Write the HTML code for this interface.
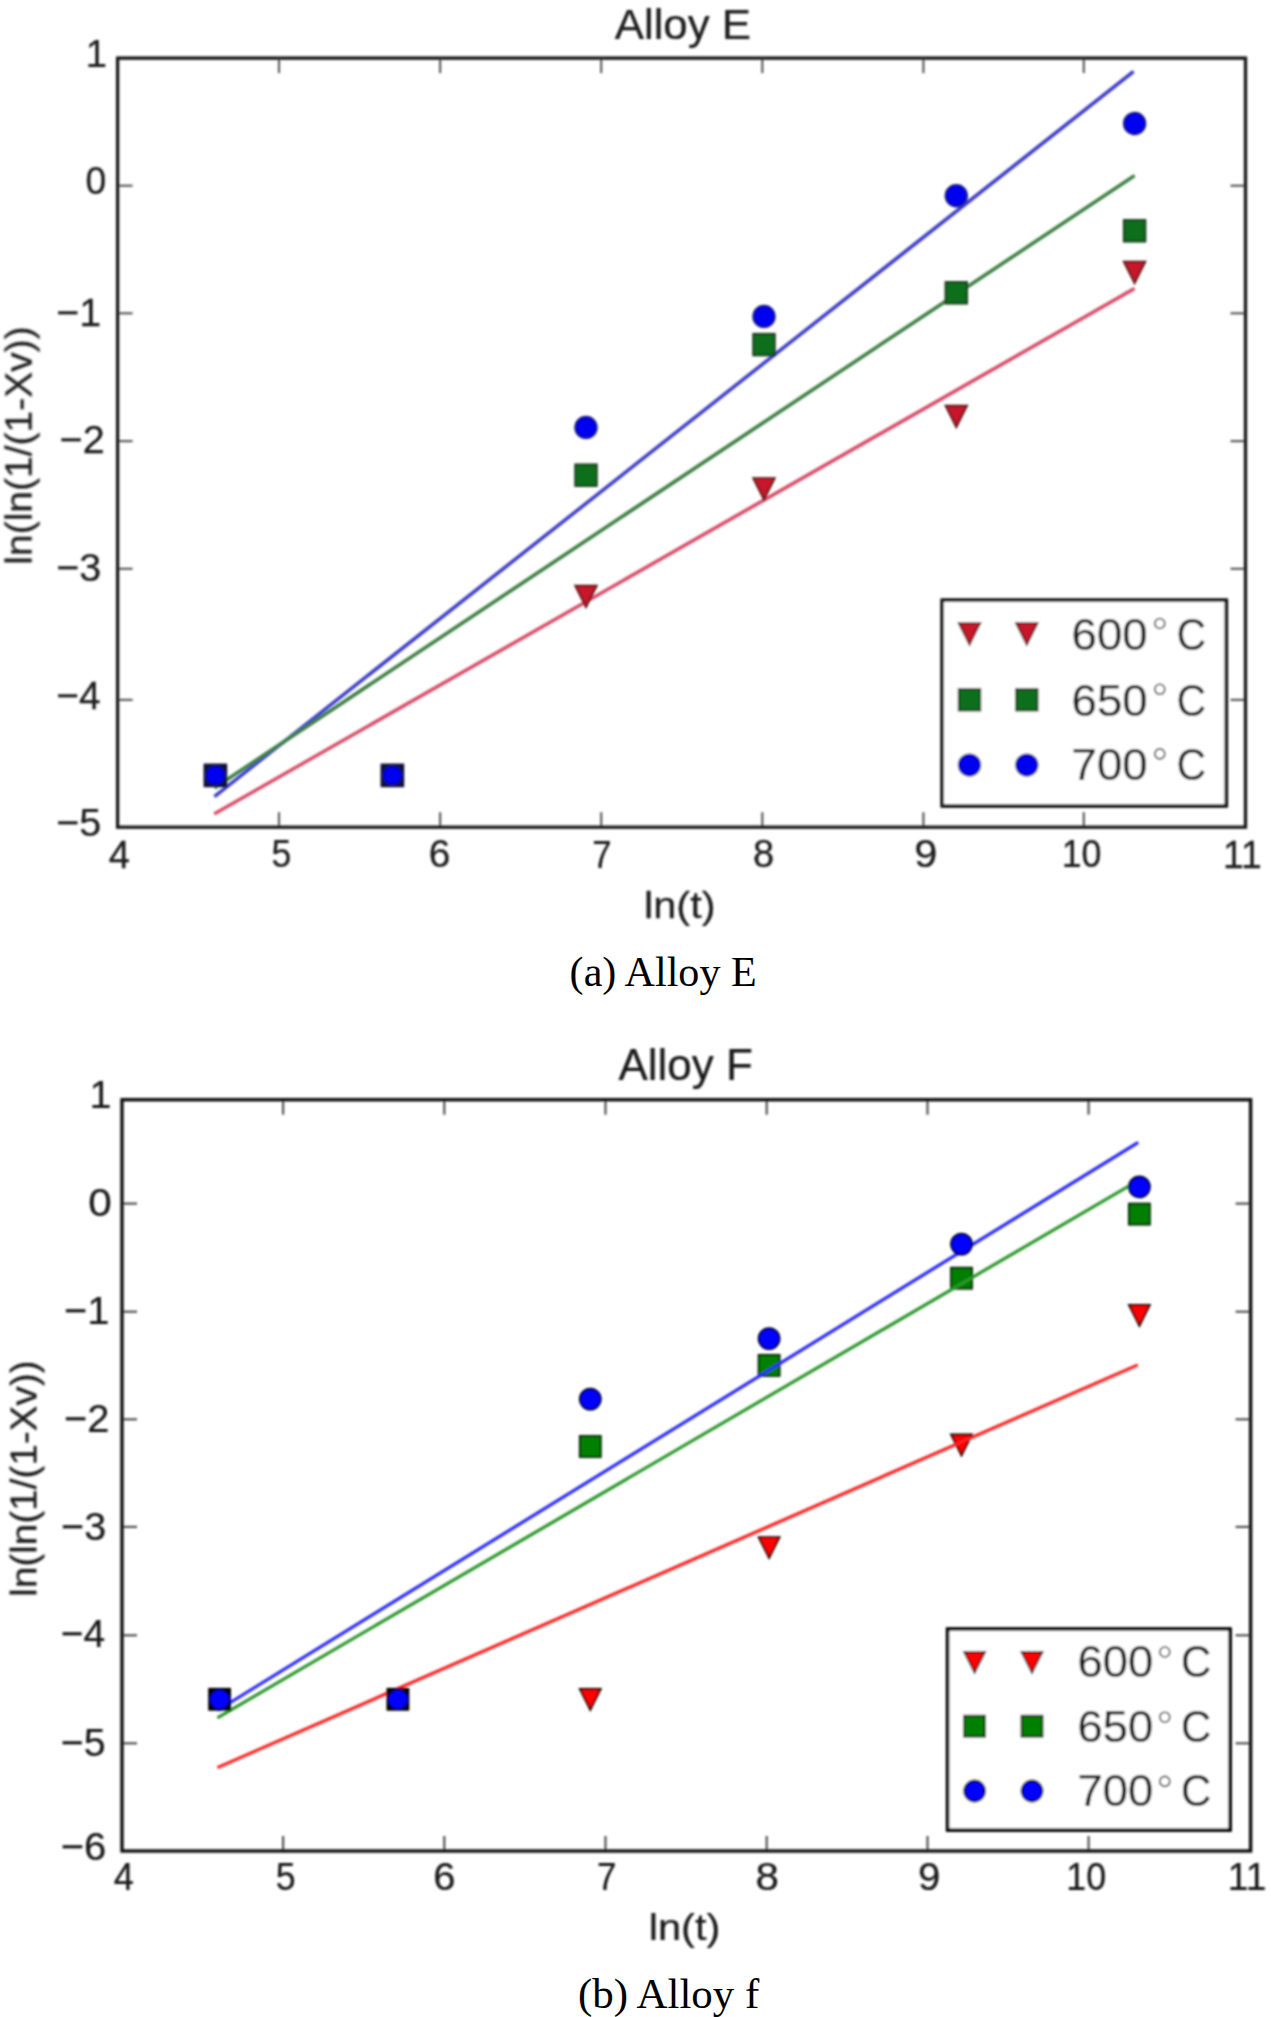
<!DOCTYPE html>
<html><head><meta charset="utf-8"><title>Alloy E / Alloy F</title>
<style>html,body{margin:0;padding:0;background:#fff;overflow:hidden;} svg{display:block;}</style></head>
<body><svg width="1271" height="2017" viewBox="0 0 1271 2017">
<defs>
<filter id="b1" x="-2%" y="-2%" width="104%" height="104%"><feGaussianBlur stdDeviation="1.0"/></filter>
<filter id="b2" x="-2%" y="-2%" width="104%" height="104%"><feGaussianBlur stdDeviation="0.8"/></filter>
</defs>
<rect width="1271" height="2017" fill="#fff"/>
<g filter="url(#b1)">
<line x1="279.00" y1="827.20" x2="279.00" y2="812.20" stroke="#5a5a5a" stroke-width="2.2"/>
<line x1="279.00" y1="58.10" x2="279.00" y2="73.10" stroke="#5a5a5a" stroke-width="2.2"/>
<line x1="440.10" y1="827.20" x2="440.10" y2="812.20" stroke="#5a5a5a" stroke-width="2.2"/>
<line x1="440.10" y1="58.10" x2="440.10" y2="73.10" stroke="#5a5a5a" stroke-width="2.2"/>
<line x1="601.20" y1="827.20" x2="601.20" y2="812.20" stroke="#5a5a5a" stroke-width="2.2"/>
<line x1="601.20" y1="58.10" x2="601.20" y2="73.10" stroke="#5a5a5a" stroke-width="2.2"/>
<line x1="762.30" y1="827.20" x2="762.30" y2="812.20" stroke="#5a5a5a" stroke-width="2.2"/>
<line x1="762.30" y1="58.10" x2="762.30" y2="73.10" stroke="#5a5a5a" stroke-width="2.2"/>
<line x1="923.40" y1="827.20" x2="923.40" y2="812.20" stroke="#5a5a5a" stroke-width="2.2"/>
<line x1="923.40" y1="58.10" x2="923.40" y2="73.10" stroke="#5a5a5a" stroke-width="2.2"/>
<line x1="1083.80" y1="827.20" x2="1083.80" y2="812.20" stroke="#5a5a5a" stroke-width="2.2"/>
<line x1="1083.80" y1="58.10" x2="1083.80" y2="73.10" stroke="#5a5a5a" stroke-width="2.2"/>
<line x1="117.60" y1="185.70" x2="132.60" y2="185.70" stroke="#5a5a5a" stroke-width="2.2"/>
<line x1="1245.50" y1="185.70" x2="1230.50" y2="185.70" stroke="#5a5a5a" stroke-width="2.2"/>
<line x1="117.60" y1="313.30" x2="132.60" y2="313.30" stroke="#5a5a5a" stroke-width="2.2"/>
<line x1="1245.50" y1="313.30" x2="1230.50" y2="313.30" stroke="#5a5a5a" stroke-width="2.2"/>
<line x1="117.60" y1="441.10" x2="132.60" y2="441.10" stroke="#5a5a5a" stroke-width="2.2"/>
<line x1="1245.50" y1="441.10" x2="1230.50" y2="441.10" stroke="#5a5a5a" stroke-width="2.2"/>
<line x1="117.60" y1="568.80" x2="132.60" y2="568.80" stroke="#5a5a5a" stroke-width="2.2"/>
<line x1="1245.50" y1="568.80" x2="1230.50" y2="568.80" stroke="#5a5a5a" stroke-width="2.2"/>
<line x1="117.60" y1="699.90" x2="132.60" y2="699.90" stroke="#5a5a5a" stroke-width="2.2"/>
<line x1="1245.50" y1="699.90" x2="1230.50" y2="699.90" stroke="#5a5a5a" stroke-width="2.2"/>
<line x1="214.20" y1="814.00" x2="1134.60" y2="288.50" stroke="#d8506a" stroke-width="3.6"/>
<line x1="214.40" y1="796.60" x2="1133.60" y2="71.50" stroke="#4040c8" stroke-width="3.6"/>
<line x1="214.40" y1="788.00" x2="1134.60" y2="175.50" stroke="#3f8045" stroke-width="3.6"/>
<path d="M575.20,585.70 L596.80,585.70 L586.00,607.30 Z" fill="#c8182a" stroke="#5a1414" stroke-width="1.8"/>
<path d="M753.20,478.20 L774.80,478.20 L764.00,499.80 Z" fill="#c8182a" stroke="#5a1414" stroke-width="1.8"/>
<path d="M945.50,405.60 L967.10,405.60 L956.30,427.20 Z" fill="#c8182a" stroke="#5a1414" stroke-width="1.8"/>
<path d="M1123.80,261.60 L1145.40,261.60 L1134.60,283.20 Z" fill="#c8182a" stroke="#5a1414" stroke-width="1.8"/>
<rect x="575.20" y="464.40" width="21.60" height="21.60" fill="#0e6e1e" stroke="#1a361a" stroke-width="1.8"/>
<rect x="753.20" y="333.80" width="21.60" height="21.60" fill="#0e6e1e" stroke="#1a361a" stroke-width="1.8"/>
<rect x="945.50" y="282.00" width="21.60" height="21.60" fill="#0e6e1e" stroke="#1a361a" stroke-width="1.8"/>
<rect x="1123.80" y="220.00" width="21.60" height="21.60" fill="#0e6e1e" stroke="#1a361a" stroke-width="1.8"/>
<circle cx="586.00" cy="427.40" r="10.80" fill="#0000f0" stroke="#181880" stroke-width="1.8"/>
<circle cx="764.00" cy="316.40" r="10.80" fill="#0000f0" stroke="#181880" stroke-width="1.8"/>
<circle cx="956.30" cy="195.70" r="10.80" fill="#0000f0" stroke="#181880" stroke-width="1.8"/>
<circle cx="1134.60" cy="123.50" r="10.80" fill="#0000f0" stroke="#181880" stroke-width="1.8"/>
<rect x="204.60" y="764.60" width="21.60" height="21.60" fill="#0c0c50" stroke="#0c0c30" stroke-width="2.0"/>
<circle cx="215.40" cy="775.40" r="9.55" fill="#0000f0" stroke="#10106a" stroke-width="1.2"/>
<rect x="381.60" y="764.60" width="21.60" height="21.60" fill="#0c0c50" stroke="#0c0c30" stroke-width="2.0"/>
<circle cx="392.40" cy="775.40" r="9.55" fill="#0000f0" stroke="#10106a" stroke-width="1.2"/>
<rect x="117.60" y="58.10" width="1127.90" height="769.10" fill="none" stroke="#141414" stroke-width="3.3"/>
<rect x="942.20" y="600.20" width="284.10" height="205.70" fill="#fff" stroke="#080808" stroke-width="3.6"/>
<path d="M958.70,623.10 L980.30,623.10 L969.50,644.70 Z" fill="#c8182a" stroke="#5a1414" stroke-width="1.8"/>
<rect x="958.70" y="689.00" width="21.60" height="21.60" fill="#0e6e1e" stroke="#1a361a" stroke-width="1.8"/>
<circle cx="969.50" cy="765.10" r="10.80" fill="#0000f0" stroke="#181880" stroke-width="1.8"/>
<path d="M1016.00,623.10 L1037.60,623.10 L1026.80,644.70 Z" fill="#c8182a" stroke="#5a1414" stroke-width="1.8"/>
<rect x="1016.00" y="689.00" width="21.60" height="21.60" fill="#0e6e1e" stroke="#1a361a" stroke-width="1.8"/>
<circle cx="1026.80" cy="765.10" r="10.80" fill="#0000f0" stroke="#181880" stroke-width="1.8"/>
<text transform="translate(614.70,38.90) scale(1.0189,1)" font-family="Liberation Sans" font-size="43" fill="#1c1c1c" stroke="#1c1c1c" stroke-width="0.25">Alloy E</text>
<text transform="translate(85.75,67.39) scale(0.9705,1)" font-family="Liberation Sans" font-size="39.3" fill="#1c1c1c" stroke="#1c1c1c" stroke-width="0.25">1</text>
<text transform="translate(85.61,194.00) scale(0.9489,1)" font-family="Liberation Sans" font-size="39.3" fill="#1c1c1c" stroke="#1c1c1c" stroke-width="0.25">0</text>
<text transform="translate(56.23,325.59) scale(1.0007,1)" font-family="Liberation Sans" font-size="39.3" fill="#1c1c1c" stroke="#1c1c1c" stroke-width="0.25">−1</text>
<text transform="translate(59.61,453.19) scale(1.0105,1)" font-family="Liberation Sans" font-size="39.3" fill="#1c1c1c" stroke="#1c1c1c" stroke-width="0.25">−2</text>
<text transform="translate(56.22,580.90) scale(1.0057,1)" font-family="Liberation Sans" font-size="39.3" fill="#1c1c1c" stroke="#1c1c1c" stroke-width="0.25">−3</text>
<text transform="translate(56.26,709.19) scale(0.9890,1)" font-family="Liberation Sans" font-size="39.3" fill="#1c1c1c" stroke="#1c1c1c" stroke-width="0.25">−4</text>
<text transform="translate(56.22,835.90) scale(1.0057,1)" font-family="Liberation Sans" font-size="39.3" fill="#1c1c1c" stroke="#1c1c1c" stroke-width="0.25">−5</text>
<text transform="translate(108.64,867.79) scale(0.9729,1)" font-family="Liberation Sans" font-size="39.3" fill="#1c1c1c" stroke="#1c1c1c" stroke-width="0.25">4</text>
<text transform="translate(271.58,867.40) scale(0.9041,1)" font-family="Liberation Sans" font-size="39.3" fill="#1c1c1c" stroke="#1c1c1c" stroke-width="0.25">5</text>
<text transform="translate(428.85,867.40) scale(0.9902,1)" font-family="Liberation Sans" font-size="39.3" fill="#1c1c1c" stroke="#1c1c1c" stroke-width="0.25">6</text>
<text transform="translate(592.26,867.79) scale(0.8851,1)" font-family="Liberation Sans" font-size="39.3" fill="#1c1c1c" stroke="#1c1c1c" stroke-width="0.25">7</text>
<text transform="translate(752.98,867.40) scale(0.9691,1)" font-family="Liberation Sans" font-size="39.3" fill="#1c1c1c" stroke="#1c1c1c" stroke-width="0.25">8</text>
<text transform="translate(914.22,867.40) scale(1.0565,1)" font-family="Liberation Sans" font-size="39.3" fill="#1c1c1c" stroke="#1c1c1c" stroke-width="0.25">9</text>
<text transform="translate(1061.74,867.40) scale(0.9099,1)" font-family="Liberation Sans" font-size="39.3" fill="#1c1c1c" stroke="#1c1c1c" stroke-width="0.25">10</text>
<text transform="translate(1223.01,867.79) scale(0.9507,1)" font-family="Liberation Sans" font-size="39.3" fill="#1c1c1c" stroke="#1c1c1c" stroke-width="0.25">11</text>
<text transform="translate(643.99,918.08) scale(1.1359,1)" font-family="Liberation Sans" font-size="36.6" fill="#1c1c1c" stroke="#1c1c1c" stroke-width="0.25">ln(t)</text>
<text transform="translate(31.50,564.73) rotate(-90) scale(1.0404,1)" font-family="Liberation Sans" font-size="37.5" fill="#1c1c1c" stroke="#1c1c1c" stroke-width="0.25">ln(ln(1/(1-Xv))</text>
<text transform="translate(1071.62,649.80) scale(1.0452,1)" font-family="Liberation Sans" font-size="43.6" fill="#1c1c1c" stroke="#1c1c1c" stroke-width="0.25">600</text>
<text transform="translate(1176.77,649.80) scale(0.9320,1)" font-family="Liberation Sans" font-size="43.6" fill="#1c1c1c" stroke="#1c1c1c" stroke-width="0.25">C</text>
<circle cx="1159.8" cy="623.5" r="5.0" fill="none" stroke="#333" stroke-width="1.6"/>
<text transform="translate(1071.62,715.60) scale(1.0452,1)" font-family="Liberation Sans" font-size="43.6" fill="#1c1c1c" stroke="#1c1c1c" stroke-width="0.25">650</text>
<text transform="translate(1176.77,715.60) scale(0.9320,1)" font-family="Liberation Sans" font-size="43.6" fill="#1c1c1c" stroke="#1c1c1c" stroke-width="0.25">C</text>
<circle cx="1159.8" cy="689.3" r="5.0" fill="none" stroke="#333" stroke-width="1.6"/>
<text transform="translate(1071.62,780.20) scale(1.0452,1)" font-family="Liberation Sans" font-size="43.6" fill="#1c1c1c" stroke="#1c1c1c" stroke-width="0.25">700</text>
<text transform="translate(1176.77,780.20) scale(0.9320,1)" font-family="Liberation Sans" font-size="43.6" fill="#1c1c1c" stroke="#1c1c1c" stroke-width="0.25">C</text>
<circle cx="1159.8" cy="753.9" r="5.0" fill="none" stroke="#333" stroke-width="1.6"/>
</g>
<text transform="translate(569.62,985.80) scale(0.9909,1)" font-family="Liberation Serif" font-size="42.5" fill="#000" stroke="#000" stroke-width="0">(a) Alloy E</text>
<g filter="url(#b2)">
<line x1="283.10" y1="1851.00" x2="283.10" y2="1836.00" stroke="#505050" stroke-width="2.2"/>
<line x1="283.10" y1="1099.70" x2="283.10" y2="1114.70" stroke="#505050" stroke-width="2.2"/>
<line x1="444.30" y1="1851.00" x2="444.30" y2="1836.00" stroke="#505050" stroke-width="2.2"/>
<line x1="444.30" y1="1099.70" x2="444.30" y2="1114.70" stroke="#505050" stroke-width="2.2"/>
<line x1="605.50" y1="1851.00" x2="605.50" y2="1836.00" stroke="#505050" stroke-width="2.2"/>
<line x1="605.50" y1="1099.70" x2="605.50" y2="1114.70" stroke="#505050" stroke-width="2.2"/>
<line x1="766.70" y1="1851.00" x2="766.70" y2="1836.00" stroke="#505050" stroke-width="2.2"/>
<line x1="766.70" y1="1099.70" x2="766.70" y2="1114.70" stroke="#505050" stroke-width="2.2"/>
<line x1="927.50" y1="1851.00" x2="927.50" y2="1836.00" stroke="#505050" stroke-width="2.2"/>
<line x1="927.50" y1="1099.70" x2="927.50" y2="1114.70" stroke="#505050" stroke-width="2.2"/>
<line x1="1088.60" y1="1851.00" x2="1088.60" y2="1836.00" stroke="#505050" stroke-width="2.2"/>
<line x1="1088.60" y1="1099.70" x2="1088.60" y2="1114.70" stroke="#505050" stroke-width="2.2"/>
<line x1="122.00" y1="1203.60" x2="137.00" y2="1203.60" stroke="#505050" stroke-width="2.2"/>
<line x1="1250.60" y1="1203.60" x2="1235.60" y2="1203.60" stroke="#505050" stroke-width="2.2"/>
<line x1="122.00" y1="1311.70" x2="137.00" y2="1311.70" stroke="#505050" stroke-width="2.2"/>
<line x1="1250.60" y1="1311.70" x2="1235.60" y2="1311.70" stroke="#505050" stroke-width="2.2"/>
<line x1="122.00" y1="1419.30" x2="137.00" y2="1419.30" stroke="#505050" stroke-width="2.2"/>
<line x1="1250.60" y1="1419.30" x2="1235.60" y2="1419.30" stroke="#505050" stroke-width="2.2"/>
<line x1="122.00" y1="1526.90" x2="137.00" y2="1526.90" stroke="#505050" stroke-width="2.2"/>
<line x1="1250.60" y1="1526.90" x2="1235.60" y2="1526.90" stroke="#505050" stroke-width="2.2"/>
<line x1="122.00" y1="1635.30" x2="137.00" y2="1635.30" stroke="#505050" stroke-width="2.2"/>
<line x1="1250.60" y1="1635.30" x2="1235.60" y2="1635.30" stroke="#505050" stroke-width="2.2"/>
<line x1="122.00" y1="1743.30" x2="137.00" y2="1743.30" stroke="#505050" stroke-width="2.2"/>
<line x1="1250.60" y1="1743.30" x2="1235.60" y2="1743.30" stroke="#505050" stroke-width="2.2"/>
<path d="M579.80,1689.00 L600.80,1689.00 L590.30,1710.00 Z" fill="#ff0000" stroke="#1a0000" stroke-width="1.8"/>
<path d="M758.60,1537.10 L779.60,1537.10 L769.10,1558.10 Z" fill="#ff0000" stroke="#1a0000" stroke-width="1.8"/>
<path d="M951.00,1434.50 L972.00,1434.50 L961.50,1455.50 Z" fill="#ff0000" stroke="#1a0000" stroke-width="1.8"/>
<path d="M1128.90,1304.90 L1149.90,1304.90 L1139.40,1325.90 Z" fill="#ff0000" stroke="#1a0000" stroke-width="1.8"/>
<line x1="217.40" y1="1767.60" x2="1137.80" y2="1364.90" stroke="#ff2020" stroke-width="3.2"/>
<rect x="579.80" y="1436.00" width="21.00" height="21.00" fill="#008000" stroke="#001a00" stroke-width="1.8"/>
<rect x="758.60" y="1354.90" width="21.00" height="21.00" fill="#008000" stroke="#001a00" stroke-width="1.8"/>
<rect x="951.00" y="1267.70" width="21.00" height="21.00" fill="#008000" stroke="#001a00" stroke-width="1.8"/>
<rect x="1128.90" y="1203.60" width="21.00" height="21.00" fill="#008000" stroke="#001a00" stroke-width="1.8"/>
<line x1="217.40" y1="1710.50" x2="1138.20" y2="1142.40" stroke="#2a2aff" stroke-width="3.2"/>
<line x1="217.40" y1="1717.80" x2="1138.20" y2="1180.60" stroke="#2a962a" stroke-width="3.2"/>
<circle cx="590.30" cy="1399.10" r="10.50" fill="#0000ff" stroke="#00001a" stroke-width="1.8"/>
<circle cx="769.10" cy="1338.60" r="10.50" fill="#0000ff" stroke="#00001a" stroke-width="1.8"/>
<circle cx="961.50" cy="1244.10" r="10.50" fill="#0000ff" stroke="#00001a" stroke-width="1.8"/>
<circle cx="1139.40" cy="1186.90" r="10.50" fill="#0000ff" stroke="#00001a" stroke-width="1.8"/>
<rect x="209.10" y="1688.80" width="21.00" height="21.00" fill="#000" stroke="#000" stroke-width="1.8"/>
<circle cx="219.60" cy="1699.30" r="10.00" fill="#0000ff" stroke="#000" stroke-width="1.2"/>
<rect x="387.40" y="1688.80" width="21.00" height="21.00" fill="#000" stroke="#000" stroke-width="1.8"/>
<circle cx="397.90" cy="1699.30" r="10.00" fill="#0000ff" stroke="#000" stroke-width="1.2"/>
<rect x="122.00" y="1099.70" width="1128.60" height="751.30" fill="none" stroke="#111111" stroke-width="3.4"/>
<rect x="947.60" y="1629.00" width="282.50" height="201.10" fill="#fff" stroke="#050505" stroke-width="3.6"/>
<path d="M964.10,1651.80 L985.10,1651.80 L974.60,1672.80 Z" fill="#ff0000" stroke="#1a0000" stroke-width="1.8"/>
<rect x="964.10" y="1715.70" width="21.00" height="21.00" fill="#008000" stroke="#001a00" stroke-width="1.8"/>
<circle cx="974.60" cy="1791.00" r="10.50" fill="#0000ff" stroke="#00001a" stroke-width="1.8"/>
<path d="M1021.50,1651.80 L1042.50,1651.80 L1032.00,1672.80 Z" fill="#ff0000" stroke="#1a0000" stroke-width="1.8"/>
<rect x="1021.50" y="1715.70" width="21.00" height="21.00" fill="#008000" stroke="#001a00" stroke-width="1.8"/>
<circle cx="1032.00" cy="1791.00" r="10.50" fill="#0000ff" stroke="#00001a" stroke-width="1.8"/>
<text transform="translate(618.40,1080.40) scale(1.0009,1)" font-family="Liberation Sans" font-size="44" fill="#151515" stroke="#151515" stroke-width="0.2">Alloy F</text>
<text transform="translate(89.44,1108.19) scale(1.0060,1)" font-family="Liberation Sans" font-size="39.3" fill="#151515" stroke="#151515" stroke-width="0.2">1</text>
<text transform="translate(88.21,1215.90) scale(1.0761,1)" font-family="Liberation Sans" font-size="39.3" fill="#151515" stroke="#151515" stroke-width="0.2">0</text>
<text transform="translate(63.90,1324.49) scale(1.0154,1)" font-family="Liberation Sans" font-size="39.3" fill="#151515" stroke="#151515" stroke-width="0.2">−1</text>
<text transform="translate(63.90,1431.89) scale(1.0154,1)" font-family="Liberation Sans" font-size="39.3" fill="#151515" stroke="#151515" stroke-width="0.2">−2</text>
<text transform="translate(61.12,1539.80) scale(1.0057,1)" font-family="Liberation Sans" font-size="39.3" fill="#151515" stroke="#151515" stroke-width="0.2">−3</text>
<text transform="translate(60.75,1647.29) scale(0.9914,1)" font-family="Liberation Sans" font-size="39.3" fill="#151515" stroke="#151515" stroke-width="0.2">−4</text>
<text transform="translate(60.73,1756.00) scale(1.0008,1)" font-family="Liberation Sans" font-size="39.3" fill="#151515" stroke="#151515" stroke-width="0.2">−5</text>
<text transform="translate(60.70,1860.00) scale(1.0202,1)" font-family="Liberation Sans" font-size="39.3" fill="#151515" stroke="#151515" stroke-width="0.2">−6</text>
<text transform="translate(113.77,1890.19) scale(0.9230,1)" font-family="Liberation Sans" font-size="39.3" fill="#151515" stroke="#151515" stroke-width="0.2">4</text>
<text transform="translate(275.77,1889.80) scale(0.9095,1)" font-family="Liberation Sans" font-size="39.3" fill="#151515" stroke="#151515" stroke-width="0.2">5</text>
<text transform="translate(433.20,1889.80) scale(1.0178,1)" font-family="Liberation Sans" font-size="39.3" fill="#151515" stroke="#151515" stroke-width="0.2">6</text>
<text transform="translate(596.95,1890.19) scale(0.8906,1)" font-family="Liberation Sans" font-size="39.3" fill="#151515" stroke="#151515" stroke-width="0.2">7</text>
<text transform="translate(755.61,1889.80) scale(1.0720,1)" font-family="Liberation Sans" font-size="39.3" fill="#151515" stroke="#151515" stroke-width="0.2">8</text>
<text transform="translate(917.99,1889.80) scale(1.0233,1)" font-family="Liberation Sans" font-size="39.3" fill="#151515" stroke="#151515" stroke-width="0.2">9</text>
<text transform="translate(1066.34,1889.80) scale(0.9099,1)" font-family="Liberation Sans" font-size="39.3" fill="#151515" stroke="#151515" stroke-width="0.2">10</text>
<text transform="translate(1227.83,1890.19) scale(0.9451,1)" font-family="Liberation Sans" font-size="39.3" fill="#151515" stroke="#151515" stroke-width="0.2">11</text>
<text transform="translate(648.69,1939.88) scale(1.1359,1)" font-family="Liberation Sans" font-size="36.6" fill="#151515" stroke="#151515" stroke-width="0.2">ln(t)</text>
<text transform="translate(36.50,1596.81) rotate(-90) scale(1.0319,1)" font-family="Liberation Sans" font-size="37.5" fill="#151515" stroke="#151515" stroke-width="0.2">ln(ln(1/(1-Xv))</text>
<text transform="translate(1077.53,1676.80) scale(1.0408,1)" font-family="Liberation Sans" font-size="43.6" fill="#151515" stroke="#151515" stroke-width="0.2">600</text>
<text transform="translate(1180.90,1676.80) scale(0.9648,1)" font-family="Liberation Sans" font-size="43.6" fill="#151515" stroke="#151515" stroke-width="0.2">C</text>
<circle cx="1164.8" cy="1652.0" r="5.0" fill="none" stroke="#333" stroke-width="1.6"/>
<text transform="translate(1077.53,1742.00) scale(1.0408,1)" font-family="Liberation Sans" font-size="43.6" fill="#151515" stroke="#151515" stroke-width="0.2">650</text>
<text transform="translate(1180.90,1742.00) scale(0.9648,1)" font-family="Liberation Sans" font-size="43.6" fill="#151515" stroke="#151515" stroke-width="0.2">C</text>
<circle cx="1164.8" cy="1717.2" r="5.0" fill="none" stroke="#333" stroke-width="1.6"/>
<text transform="translate(1077.53,1806.20) scale(1.0408,1)" font-family="Liberation Sans" font-size="43.6" fill="#151515" stroke="#151515" stroke-width="0.2">700</text>
<text transform="translate(1180.90,1806.20) scale(0.9648,1)" font-family="Liberation Sans" font-size="43.6" fill="#151515" stroke="#151515" stroke-width="0.2">C</text>
<circle cx="1164.8" cy="1781.4" r="5.0" fill="none" stroke="#333" stroke-width="1.6"/>
</g>
<text transform="translate(578.08,2007.70) scale(1.0099,1)" font-family="Liberation Serif" font-size="42.5" fill="#000" stroke="#000" stroke-width="0">(b) Alloy f</text>
</svg></body></html>
